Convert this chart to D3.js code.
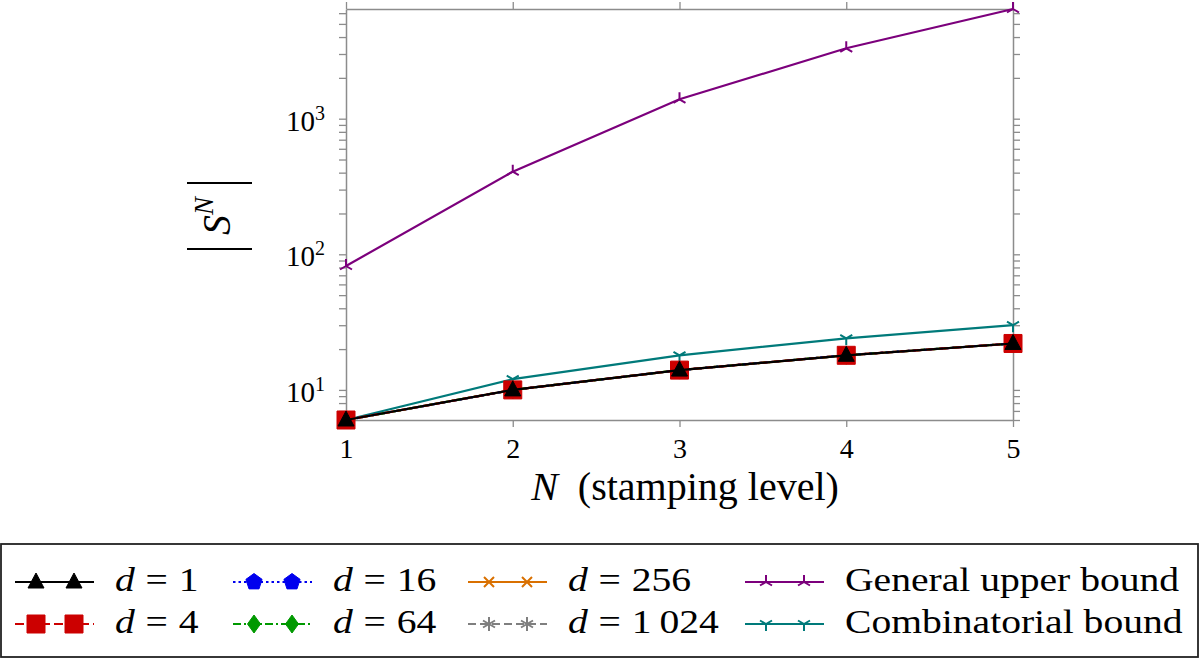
<!DOCTYPE html>
<html>
<head>
<meta charset="utf-8">
<script src="https://cdn.jsdelivr.net/npm/d3@7"></script>
<style>
  body { margin: 0; background: #fff; }
  svg { display: block; font-family: "Liberation Serif", "Times New Roman", serif; }
  text { white-space: pre; }
</style>
</head>
<body>
<script>
// values
const levels = [1, 2, 3, 4, 5];
const dLabels = ['1', '4', '16', '64', '256', '1\u2009024'];
const sizeD1 = [6, 10, 14, 18, 22];
const sizeD4 = [6, 10, 14, 18, 22];
const sizeD16 = [6, 10, 14, 18, 22];
const sizeD64 = [6, 10, 14, 18, 22];
const sizeD256 = [6, 10, 14, 18, 22];
const sizeD1024 = [6, 10, 14, 18, 22];
const upperBound = [82, 407, 1390, 3305, 6440];
const combinatorialBound = [6, 12, 18, 24, 30];
const yMajorTicks = [10, 100, 1000];

const width = 1200, height = 660;
const plot = { left: 346, right: 1013, top: 9, bottom: 420 };
const axisGray = '#8c8c8c';

const series = [
  { name: 'd', label: dLabels[0], values: sizeD1, color: '#000000', dash: null, marker: 'triangle' },
  { name: 'd', label: dLabels[1], values: sizeD4, color: '#cc0000', dash: '9,4', marker: 'square' },
  { name: 'd', label: dLabels[2], values: sizeD16, color: '#0000ee', dash: '2.5,3', marker: 'pentagon' },
  { name: 'd', label: dLabels[3], values: sizeD64, color: '#009900', dash: '8,3,2,3', marker: 'diamond' },
  { name: 'd', label: dLabels[4], values: sizeD256, color: '#d97000', dash: null, marker: 'x' },
  { name: 'd', label: dLabels[5], values: sizeD1024, color: '#7f7f7f', dash: '8,4', marker: 'asterisk' },
  { name: 'General upper bound', values: upperBound, color: '#7c007c', dash: null, marker: 'starUp' },
  { name: 'Combinatorial bound', values: combinatorialBound, color: '#007a7a', dash: null, marker: 'starDown' }
];

function markerPath(type) {
  switch (type) {
    case 'triangle': return 'M0,-9L8,6L-8,6Z';
    case 'square': return 'M-9,-9h18v18h-18Z';
    case 'pentagon': {
      const pts = d3.range(5).map(i => {
        const a = -Math.PI / 2 + i * 2 * Math.PI / 5;
        return [8.5 * Math.cos(a), 8.5 * Math.sin(a)];
      });
      return 'M' + pts.map(p => p.join(',')).join('L') + 'Z';
    }
    case 'diamond': return 'M0,-9L6.5,0L0,9L-6.5,0Z';
    case 'x': return 'M-5,-5L5,5M-5,5L5,-5';
    case 'asterisk': return 'M0,-7L0,7M-6,-3.5L6,3.5M-6,3.5L6,-3.5';
    case 'starUp': return 'M0,0L0,-7M0,0L-6,3.5M0,0L6,3.5';
    case 'starDown': return 'M0,0L0,7M0,0L-6,-3.5M0,0L6,-3.5';
  }
}
const filled = { triangle: true, square: true, pentagon: true, diamond: true };

function drawMarker(g, s, cx, cy) {
  g.append('path')
    .attr('d', markerPath(s.marker))
    .attr('transform', `translate(${cx},${cy})`)
    .attr('stroke', s.color)
    .attr('stroke-width', filled[s.marker] ? 1 : 2)
    .attr('fill', filled[s.marker] ? s.color : 'none');
}

const svg = d3.select('body').append('svg')
  .attr('width', width)
  .attr('height', height);

const allValues = series.flatMap(s => s.values);
const x = d3.scaleLinear().domain(d3.extent(levels)).range([plot.left, plot.right]);
const y = d3.scaleLog().domain([d3.min(allValues), d3.max(allValues)]).range([plot.bottom, plot.top]);

function styleAxis(g) {
  g.attr('font-family', null).attr('font-size', 28);
  g.select('.domain').attr('stroke', axisGray).attr('stroke-width', 1.5);
  g.selectAll('.tick line').attr('stroke', axisGray).attr('stroke-width', 1.3);
  g.selectAll('.tick text').attr('fill', '#000');
}

// axes (frame)
svg.append('g')
  .attr('transform', `translate(0,${plot.bottom})`)
  .call(d3.axisBottom(x).tickValues(levels).tickSize(7).tickSizeOuter(0).tickPadding(11).tickFormat(d3.format('d')))
  .call(styleAxis);
svg.append('g')
  .attr('transform', `translate(0,${plot.top})`)
  .call(d3.axisTop(x).tickValues(levels).tickSize(7).tickSizeOuter(0).tickFormat(''))
  .call(styleAxis);
svg.append('g')
  .attr('transform', `translate(${plot.left},0)`)
  .call(d3.axisLeft(y).tickValues(y.ticks()).tickSize(7).tickSizeOuter(0).tickFormat(''))
  .call(styleAxis);
svg.append('g')
  .attr('transform', `translate(${plot.right},0)`)
  .call(d3.axisRight(y).tickValues(y.ticks()).tickSize(7).tickSizeOuter(0).tickFormat(''))
  .call(styleAxis);

// y tick labels 10^k
const yLabels = svg.append('g').attr('font-size', 29);
yMajorTicks.forEach(v => {
  const t = yLabels.append('text')
    .attr('x', plot.left - 21)
    .attr('y', y(v) + 12)
    .attr('text-anchor', 'end');
  t.append('tspan').text('10');
  t.append('tspan').attr('font-size', 20).attr('dy', -11).text(String(Math.round(Math.log10(v))));
});

// series, drawn last-to-first so d = 1 ends on top
const line = d3.line().x((d, i) => x(levels[i])).y(d => y(d));
const plotG = svg.append('g');
series.slice().reverse().forEach(s => {
  plotG.append('path')
    .datum(s.values)
    .attr('d', line)
    .attr('fill', 'none')
    .attr('stroke', s.color)
    .attr('stroke-width', 2.2)
    .attr('stroke-dasharray', s.dash);
  s.values.forEach((v, i) => drawMarker(plotG, s, x(levels[i]), y(v)));
});

// axis titles
const xTitle = svg.append('text')
  .attr('x', 685)
  .attr('y', 500)
  .attr('text-anchor', 'middle')
  .attr('font-size', 40);
xTitle.append('tspan').attr('font-style', 'italic').text('N');
xTitle.append('tspan').attr('dx', 10).text(' (stamping level)');

const yTitle = svg.append('g').attr('transform', 'translate(230,216) rotate(-90)');
const yt = yTitle.append('text').attr('text-anchor', 'middle').attr('font-size', 40);
yt.append('tspan').attr('font-style', 'italic').text('S');
yt.append('tspan').attr('font-style', 'italic').attr('font-size', 27).attr('dy', -17).text('N');
[-33, 33].forEach(lx => {
  yTitle.append('line')
    .attr('x1', lx).attr('x2', lx)
    .attr('y1', -43).attr('y2', 22)
    .attr('stroke', '#000').attr('stroke-width', 2.2);
});

// legend
const legend = svg.append('g');
legend.append('rect')
  .attr('x', 1).attr('y', 544)
  .attr('width', 1197).attr('height', 113)
  .attr('fill', '#fff').attr('stroke', '#222').attr('stroke-width', 1.8);

const colX = [15, 233, 468, 745];
const rowY = [582, 624];
series.forEach((s, i) => {
  const x0 = colX[Math.floor(i / 2)];
  const cy = rowY[i % 2];
  const g = legend.append('g');
  g.append('line')
    .attr('x1', x0).attr('x2', x0 + 79)
    .attr('y1', cy).attr('y2', cy)
    .attr('stroke', s.color).attr('stroke-width', 2.2)
    .attr('stroke-dasharray', s.dash);
  drawMarker(g, s, x0 + 21, cy);
  drawMarker(g, s, x0 + 59, cy);
  const t = g.append('text')
    .attr('transform', `translate(${x0 + 100},${cy + 9}) scale(1.2,1)`)
    .attr('font-size', 33);
  if (s.label) {
    t.append('tspan').attr('font-style', 'italic').text('d');
    t.append('tspan').attr('dx', 9).text('=');
    t.append('tspan').attr('dx', 9).text(s.label);
  } else {
    t.text(s.name);
  }
});
</script>
</body>
</html>
